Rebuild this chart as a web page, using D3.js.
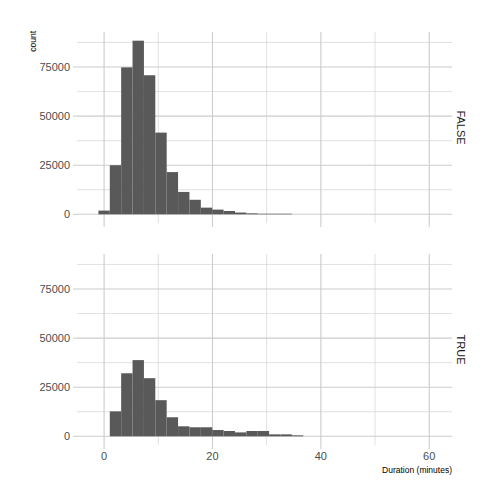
<!DOCTYPE html>
<html><head><meta charset="utf-8">
<script src="https://cdn.jsdelivr.net/npm/d3@7"></script>
<style>body{margin:0;background:#fff}</style></head>
<body><svg id="c" width="504" height="504"></svg>
<script>
const panels = ["FALSE", "TRUE"];
const binWidth = 2.1;
const countsFALSE = [1900, 25000, 74800, 88400, 70800, 41600, 21500, 11400, 7400, 3400, 2400, 1700, 900, 500, 300, 300, 300];
const countsTRUE = [0, 12700, 32100, 38800, 29600, 18400, 9700, 5100, 4600, 4600, 3200, 2700, 2000, 2700, 2700, 1000, 1000, 500];
const xTicks = [0, 20, 40, 60];
const yTicks = [0, 25000, 50000, 75000];
const data = {FALSE: countsFALSE, TRUE: countsTRUE};

const svg = d3.select("#c");
const L = 77, R = 452;
const x = d3.scaleLinear().domain([-5, 64.2]).range([L, R]);
const panelTops = [32, 254], panelH = 191;
const grid = "#cccccc", txt = "#4d4d4d";

panels.forEach((p, pi) => {
  const top = panelTops[pi], bot = top + panelH;
  const y = d3.scaleLinear().domain([-4420, 92820]).range([bot, top]);
  const g = svg.append("g");
  // minor grid
  d3.range(12500, 92820, 25000).forEach(v => g.append("line").attr("x1", L).attr("x2", R)
    .attr("y1", y(v)).attr("y2", y(v)).attr("stroke", grid).attr("stroke-width", 0.6));
  [10, 30, 50].forEach(v => g.append("line").attr("x1", x(v)).attr("x2", x(v))
    .attr("y1", top).attr("y2", bot).attr("stroke", grid).attr("stroke-width", 0.6));
  yTicks.forEach(v => g.append("line").attr("x1", L).attr("x2", R)
    .attr("y1", y(v)).attr("y2", y(v)).attr("stroke", grid).attr("stroke-width", 1.1));
  xTicks.forEach(v => g.append("line").attr("x1", x(v)).attr("x2", x(v))
    .attr("y1", top).attr("y2", bot).attr("stroke", grid).attr("stroke-width", 1.1));
  // bars
  g.selectAll("rect").data(data[p]).join("rect")
    .attr("x", (d, i) => x(i * binWidth - binWidth / 2))
    .attr("width", (d, i) => x(binWidth) - x(0))
    .attr("y", d => y(d)).attr("height", d => y(0) - y(d))
    .attr("fill", "#595959");
  // y axis
  yTicks.forEach(v => {
    g.append("line").attr("x1", L - 4).attr("x2", L).attr("y1", y(v)).attr("y2", y(v)).attr("stroke", grid);
    g.append("text").attr("x", L - 7).attr("y", y(v)).attr("dy", "0.35em").attr("text-anchor", "end")
      .attr("font-family", "Liberation Sans, Arial, sans-serif").attr("font-size", 11).attr("fill", txt).text(v);
  });
  // strip
  g.append("text").attr("transform", `translate(${R + 5},${(top + bot) / 2}) rotate(90)`)
    .attr("text-anchor", "middle").attr("font-family", "Liberation Sans, Arial, sans-serif")
    .attr("font-size", 11).attr("fill", "#1a1a1a").text(p);
  // x ticks
  xTicks.forEach(v => g.append("line").attr("x1", x(v)).attr("x2", x(v)).attr("y1", bot).attr("y2", bot + 4).attr("stroke", grid));
  if (pi === 1) {
    xTicks.forEach(v => g.append("text").attr("x", x(v)).attr("y", bot + 15).attr("text-anchor", "middle")
      .attr("font-family", "Liberation Sans, Arial, sans-serif").attr("font-size", 11).attr("fill", txt).text(v));
  }
});
svg.append("text").attr("x", R).attr("y", 473).attr("text-anchor", "end")
  .attr("font-family", "Liberation Sans, Arial, sans-serif").attr("font-size", 8.5).attr("fill", "#000").text("Duration (minutes)");
svg.append("text").attr("transform", "translate(36,31) rotate(-90)").attr("text-anchor", "end")
  .attr("font-family", "Liberation Sans, Arial, sans-serif").attr("font-size", 8.5).attr("fill", "#000").text("count");
</script></body></html>
